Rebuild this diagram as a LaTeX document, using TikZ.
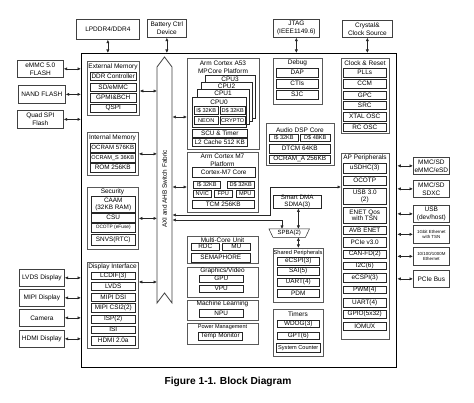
\documentclass[tikz,border=0pt]{standalone}
\usepackage{fontspec}
\setmainfont{Liberation Sans}
\usetikzlibrary{arrows.meta}
\newcommand\Bx[7]{\node[#1,anchor=north west,minimum width={(#5)-(#3)},minimum height={(#6)-(#4)}] (#2) at (#3,#4) {#7};}
\newcommand\Tt[4]{\node[ttl] (#1) at (#2,#3) {#4};}
\tikzset{
 frm/.style={draw=black, line width=1.3pt, inner sep=0},
 grp/.style={draw=black!65, line width=0.8pt, inner sep=0, fill=white},
 itm/.style={draw=black!85, line width=0.5pt, inner sep=0, fill=white, font=\fontsize{6.4}{6.9}\selectfont, align=center},
 ext/.style={draw=black!75, line width=0.7pt, inner sep=0, font=\fontsize{6.5}{8}\selectfont, align=center},
 ttl/.style={inner sep=0, font=\fontsize{6.5}{7.8}\selectfont, align=center},
 sm/.style={font=\fontsize{5.6}{6.2}\selectfont},
 tiny/.style={font=\fontsize{4.4}{5.6}\selectfont},
 dbl/.style={{Latex[length=3.5pt,width=3.2pt]}-{Latex[length=3.5pt,width=3.2pt]}, line width=0.6pt, draw=black!85},
}
\begin{document}
\begin{tikzpicture}[x=1pt,y=-1pt]
\useasboundingbox (0,0) rectangle (474,403);
% main frame
\Bx{frm}{frame}{81}{53}{396}{367}{}
% top externals
\Bx{ext}{ddr}{76}{19}{139}{39}{LPDDR4/DDR4}
\Bx{ext}{batt}{147}{19}{186}{37}{Battery Ctrl\\Device}
\Bx{ext}{jtag}{273}{19}{319}{37}{JTAG\\(IEEE1149.6)}
\Bx{ext}{xtal}{342}{20}{392}{37}{Crystal\&\\Clock Source}
% left externals
\Bx{ext}{emmc}{17}{60}{63}{77}{eMMC 5.0\\FLASH}
\Bx{ext}{nand}{18}{85}{65}{103}{NAND FLASH}
\Bx{ext}{qspi}{17}{110}{63}{128}{Quad SPI\\Flash}
\Bx{ext}{lvds}{19}{269}{64}{286}{LVDS Display}
\Bx{ext}{mipi}{19}{289}{64}{306}{MIPI Display}
\Bx{ext}{cam}{19}{309}{64}{326}{Camera}
\Bx{ext}{hdmi}{19}{330}{64}{347}{HDMI Display}
% right externals
\Bx{ext}{mmc1}{413}{157}{449}{174}{MMC/SD\\eMMC/eSD}
\Bx{ext}{mmc2}{413}{180}{449}{197}{MMC/SD\\SDXC}
\Bx{ext}{usbx}{413}{205}{449}{222}{USB\\(dev/host)}
\Bx{ext,tiny}{gbe}{413}{225}{449}{243}{1Gbit Ethernet\\with TSN}
\Bx{ext,tiny}{eth}{413}{247}{449}{265}{10/100/1000M\\Ethernet}
\Bx{ext}{pcieb}{413}{270}{449}{287}{PCIe Bus}
% switch fabric
\node[inner sep=0,anchor=north west,minimum width=15,minimum height=246] (fab) at (157,57) {};
\draw[draw=black!75,line width=0.8pt,fill=white] (157,303) -- (157,67) -- (164.5,57) -- (172,67) -- (172,303) -- (164.5,293) -- cycle;
\node[rotate=90,inner sep=0,font=\fontsize{6.4}{7}\selectfont] (fabt) at (164.5,189) {AXI and AHB Switch Fabric};
% External Memory
\Bx{grp}{extmem}{87}{61}{139}{115}{}
\Tt{extmemT}{113}{67}{External Memory}
\Bx{itm}{ddrc}{90}{72}{136}{80}{DDR Controller}
\Bx{itm}{sdemmc}{90}{83}{136}{91}{SD/eMMC}
\Bx{itm}{gpmi}{90}{93}{136}{102}{GPMI\&BCH}
\Bx{itm}{qspic}{90}{104}{136}{112}{QSPI}
% Internal Memory
\Bx{grp}{intmem}{87}{132}{138}{175}{}
\Tt{intmemT}{112.5}{137.5}{Internal Memory}
\Bx{itm,font=\fontsize{6.1}{6.8}\selectfont}{ocram}{90}{143}{135}{152}{OCRAM 576KB}
\Bx{itm,sm}{ocrams}{90}{153}{135}{162}{OCRAM\_S 36KB}
\Bx{itm}{rom}{90}{163}{135}{172}{ROM 256KB}
% Security
\Bx{grp}{sec}{87}{187}{138}{249}{}
\Tt{secT}{112.5}{192}{Security}
\Bx{itm}{caam}{91}{196}{135}{212}{CAAM\\(32KB RAM)}
\Bx{itm}{csu}{91}{213}{135}{222}{CSU}
\Bx{itm,font=\fontsize{4.8}{5.5}\selectfont}{ocotp}{91}{223}{135}{232}{OCOTP (eFuse)}
\Bx{itm}{snvs}{91}{234}{135}{245}{SNVS(RTC)}
% Display Interface
\Bx{grp}{disp}{87}{262}{138}{348}{}
\Tt{dispT}{112.5}{267}{Display Interface}
\Bx{itm}{lcdif}{91}{272}{135}{279}{LCDIF(3)}
\Bx{itm}{lvdsi}{91}{282}{135}{290}{LVDS}
\Bx{itm}{dsi}{91}{293}{135}{301}{MIPI DSI}
\Bx{itm}{csi}{91}{303}{135}{312}{MIPI CSI2(2)}
\Bx{itm}{isp}{91}{315}{135}{323}{ISP(2)}
\Bx{itm}{isi}{91}{326}{135}{333}{ISI}
\Bx{itm}{hdmii}{91}{336}{135}{345}{HDMI 2.0a}
% A53
\Bx{grp}{a53}{187}{58}{259}{149}{}
\Tt{a53T}{223}{67}{Arm Cortex A53\\MPCore Platform}
\Bx{itm}{cpu3}{205}{75}{255}{118}{}
\Tt{cpu3T}{230}{79}{CPU3}
\Bx{itm}{cpu2}{201}{82}{252}{121}{}
\Tt{cpu2T}{226.5}{86.5}{CPU2}
\Bx{itm}{cpu1}{197}{89}{249}{124}{}
\Tt{cpu1T}{223}{93.5}{CPU1}
\Bx{itm}{cpu0}{192}{97}{246}{127}{}
\Tt{cpu0T}{219}{102}{CPU0}
\Bx{itm,sm}{icache}{194}{106}{218}{114}{I\$ 32KB}
\Bx{itm,sm}{dcache}{220}{106}{245}{114}{D\$ 32KB}
\Bx{itm,sm}{neon}{194}{116}{218}{124}{NEON}
\Bx{itm,sm}{crypto}{220}{116}{245}{124}{CRYPTO}
\Bx{itm}{scu}{192}{129}{247}{137}{SCU \& Timer}
\Bx{itm}{ltwo}{192}{138}{247}{146}{L2 Cache 512 KB}
% M7
\Bx{grp}{m7}{187}{152}{258}{212}{}
\Tt{m7T}{222.5}{160}{Arm Cortex M7\\Platform}
\Bx{itm}{mcore}{192}{167}{255}{177}{Cortex-M7 Core}
\Bx{itm,sm}{mi}{193}{181}{220}{188}{I\$ 32KB}
\Bx{itm,sm}{md}{227}{181}{254}{188}{D\$ 32KB}
\Bx{itm,sm}{nvic}{193}{190}{211}{197}{NVIC}
\Bx{itm,sm}{fpu}{214}{190}{232}{197}{FPU}
\Bx{itm,sm}{mpu}{236}{190}{254}{197}{MPU}
\Bx{itm}{tcm}{192}{200}{254}{208}{TCM 256KB}
% Multi-core
\Bx{grp}{mcu}{187}{236}{258}{263}{}
\Tt{mcuT}{222.5}{240}{Multi-Core Unit}
\Bx{itm}{rdc}{191}{243}{219}{250}{RDC}
\Bx{itm}{mu}{222}{243}{250}{250}{MU}
\Bx{itm}{sema}{191}{253}{250}{262}{SEMAPHORE}
% Graphics
\Bx{grp}{gv}{187}{267}{258}{297}{}
\Tt{gvT}{222.5}{271}{Graphics/Video}
\Bx{itm}{gpu}{199}{275}{243}{282}{GPU}
\Bx{itm}{vpu}{199}{285}{243}{292}{VPU}
% ML
\Bx{grp}{ml}{187}{300}{258}{320}{}
\Tt{mlT}{222.5}{304}{Machine Learning}
\Bx{itm}{npu}{199}{309}{243}{317}{NPU}
% Power
\Bx{grp}{pm}{187}{323}{258}{344}{}
\node[ttl,font=\fontsize{5.5}{6}\selectfont] (pmT) at (222.5,327) {Power Management};
\Bx{itm}{temp}{198}{332}{242}{340}{Temp Monitor}
% Debug
\Bx{grp}{debug}{273}{58}{322}{104}{}
\Tt{debugT}{297.5}{63}{Debug}
\Bx{itm}{dap}{276}{68}{318}{77}{DAP}
\Bx{itm}{ctis}{276}{79}{318}{88}{CTIs}
\Bx{itm}{sjc}{276}{90}{318}{99}{SJC}
% Audio DSP
\Bx{grp}{adsp}{266}{123}{334}{165}{}
\Tt{adspT}{300}{130}{Audio DSP Core}
\Bx{itm,sm}{ai}{269}{134}{298}{141}{I\$ 32KB}
\Bx{itm,sm}{ad}{300}{134}{330}{141}{D\$ 48KB}
\Bx{itm}{dtcm}{269}{144}{330}{153}{DTCM 64KB}
\Bx{itm}{ocrama}{269}{155}{330}{163}{OCRAM\_A 256KB}
% Clock & Reset
\Bx{grp}{clk}{341}{58}{389}{133}{}
\Tt{clkT}{365}{63}{Clock \& Reset}
\Bx{itm}{plls}{343}{68}{386}{77}{PLLs}
\Bx{itm}{ccm}{343}{79}{386}{88}{CCM}
\Bx{itm}{gpc}{343}{91}{386}{99}{GPC}
\Bx{itm}{src}{343}{101}{386}{109}{SRC}
\Bx{itm}{xosc}{343}{112}{386}{121}{XTAL OSC}
\Bx{itm}{rosc}{343}{123}{386}{131}{RC OSC}
% SDMA, SPBA
\Bx{itm,font=\fontsize{6.3}{7}\selectfont}{sdma}{273}{195}{321}{208}{Smart DMA\\SDMA(3)}
\node[inner sep=0,anchor=north west,minimum width=40,minimum height=8] (spba) at (269,229) {};
\draw[draw=black!85,line width=0.5pt] (spba.north west) -- (spba.north east) -- ([xshift=-4pt]spba.south east) -- ([xshift=4pt]spba.south west) -- cycle;
\node[inner sep=0,font=\fontsize{6}{6}\selectfont] (spbaT) at (spba.center) {SPBA(2)};
% Shared Peripherals
\Bx{grp}{shared}{273}{248}{323}{302}{}
\node[ttl,font=\fontsize{5.7}{6}\selectfont] (sharedT) at (298,253) {Shared Peripherals};
\Bx{itm}{ecspi}{277}{257}{319}{265}{eCSPI(3)}
\Bx{itm}{sai}{277}{267}{319}{275}{SAI(5)}
\Bx{itm}{uart}{277}{278}{319}{286}{UART(4)}
\Bx{itm}{pdm}{277}{289}{319}{297}{PDM}
% Timers
\Bx{grp}{timers}{273}{309}{323}{356}{}
\Tt{timersT}{298}{314}{Timers}
\Bx{itm}{wdog}{277}{320}{319}{327}{WDOG(3)}
\Bx{itm}{gpt}{277}{332}{319}{339}{GPT(6)}
\Bx{itm,sm}{sysc}{276}{343}{320}{352}{System Counter}
% AP Peripherals
\Bx{grp}{ap}{341}{153}{389}{339}{}
\Tt{apT}{365}{157.5}{AP Peripherals}
\Bx{itm}{usdhc}{343}{163}{386}{173}{uSDHC(3)}
\Bx{itm}{ocotpb}{343}{176}{386}{185}{OCOTP}
\Bx{itm}{usb}{343}{188}{386}{204}{USB 3.0\\(2)}
\Bx{itm}{enet}{343}{207}{386}{223}{ENET Qos\\with TSN}
\Bx{itm}{avb}{343}{226}{386}{234}{AVB ENET}
\Bx{itm}{pcie}{343}{237}{386}{247}{PCIe v3.0}
\Bx{itm}{can}{343}{250}{386}{258}{CAN-FD(2)}
\Bx{itm}{itwoc}{343}{262}{386}{269}{I2C(6)}
\Bx{itm}{ecspib}{343}{273}{386}{282}{eCSPI(3)}
\Bx{itm}{pwm}{343}{286}{386}{293}{PWM(4)}
\Bx{itm}{uartb}{343}{298}{386}{307}{UART(4)}
\Bx{itm}{gpio}{343}{310}{386}{318}{GPIO(5x32)}
\Bx{itm}{iomux}{343}{322}{386}{330}{IOMUX}
% caption
\node[inner sep=0,font=\fontsize{10.2}{12}\bfseries\selectfont] (cap) at (228,382) {Figure 1-1. Block Diagram};
% connectors: top
\draw[dbl] (ddr.south) -- (ddr.south |- frame.north);
\draw[dbl] (batt.south) -- (batt.south |- frame.north);
\draw[dbl] (jtag.south) -- (jtag.south |- frame.north);
\draw[dbl] (xtal.south) -- (xtal.south |- frame.north);
% left
\foreach \n in {emmc,nand,qspi,lvds,mipi,cam,hdmi}
  \draw[dbl] (\n.east) -- (\n.east -| frame.west);
% right
\foreach \n in {mmc1,mmc2,usbx,gbe,eth,pcieb}
  \draw[dbl] (\n.west -| frame.east) -- (\n.west);
% to fabric
\draw[dbl] (extmem.east |- 0,91) -- (fab.west |- 0,91);
\draw[dbl] (intmem.east) -- (intmem.east -| fab.west);
\draw[dbl] (sec.east) -- (sec.east -| fab.west);
\draw[dbl] (disp.east |- 0,282) -- (fab.west |- 0,282);
\draw[dbl] (fab.east |- 0,117) -- (a53.west |- 0,117);
\draw[dbl] (fab.east |- 0,187) -- (m7.west |- 0,187);
\draw[dbl] (fab.east |- 0,215) -| (270,187) -- (ap.west |- 0,187);
\draw[dbl] (fab.east |- 0,220) -| (spba.north -| 282,0);
\draw[dbl] (sdma.south -| shared.north) -- (spba.north -| shared.north);
\draw[dbl] (spba.south -| shared.north) -- (shared.north);
\end{tikzpicture}
\end{document}
